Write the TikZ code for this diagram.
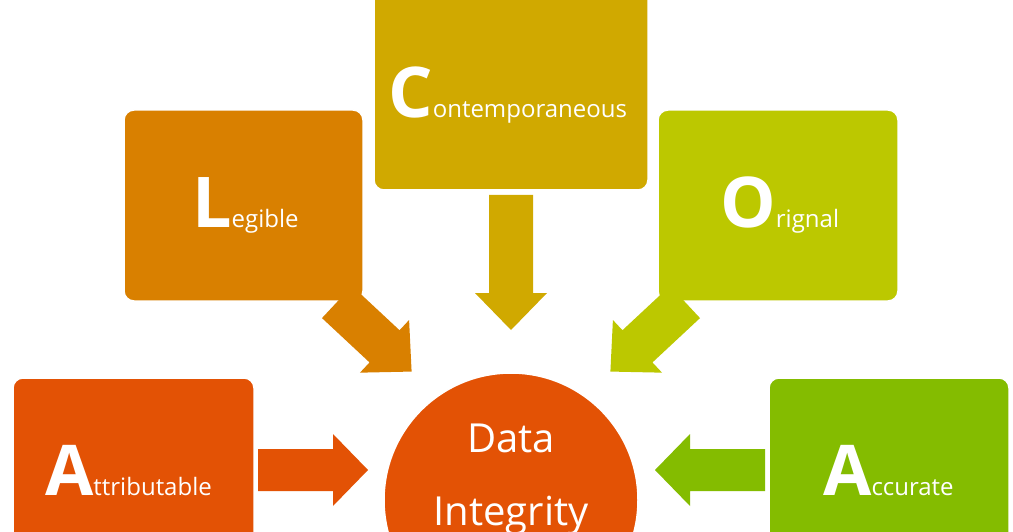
\documentclass[tikz,border=0pt]{standalone}
\usepackage{fontspec}
\setmainfont{Open Sans}
\definecolor{cA}{HTML}{E35205}
\definecolor{cL}{HTML}{D98000}
\definecolor{cC}{HTML}{D0A900}
\definecolor{cO}{HTML}{BCC800}
\definecolor{cG}{HTML}{84BC00}
\newcommand\blockarrow[7]{% x y angle length halfshaft headlen color
  \fill[#7,shift={(#1,#2)},rotate=#3] (0,-#5) -- ({#4-#6},-#5) -- ({#4-#6},-36) -- (#4,0) -- ({#4-#6},36) -- ({#4-#6},#5) -- (0,#5) -- cycle;}
\tikzset{box/.style={draw=white,line width=1.5pt,rounded corners=10pt},
 lbl/.style={anchor=base west,text=white,inner sep=0pt,font=\fontsize{24}{28}\selectfont}}
\newcommand\initial[1]{{\fontsize{70}{80}\selectfont\bfseries #1}}
\begin{document}
\begin{tikzpicture}[x=1pt,y=-1pt]
\useasboundingbox (0,0) rectangle (1013,532);
\clip (0,0) rectangle (1013,532);
\fill[white] (0,0) rectangle (1013,532);
\filldraw[cA,box] (13,378) rectangle (254,560);
\filldraw[cL,box] (124,110) rectangle (363,301);
\filldraw[cC,box] (374,-20) rectangle (648,190);
\filldraw[cO,box] (658,110) rectangle (898,301);
\filldraw[cG,box] (769,378) rectangle (1009,560);
\blockarrow{258}{470}{0}{110}{21}{35}{cA}
\blockarrow{765}{470}{180}{110}{21}{35}{cG}
\blockarrow{511}{195}{-90}{135}{22}{37}{cC}
\blockarrow{337}{302}{-43}{102}{22}{37}{cL}
\blockarrow{685}{302}{-137}{102}{22}{37}{cO}
\node[circle,fill=cA,draw=white,line width=1.5pt,minimum size=254pt] (di) at (511,500) {};
\node[text=white,font=\fontsize{40}{48}\selectfont,anchor=base] (d1) at (511,452) {Data};
\node[text=white,font=\fontsize{40}{48}\selectfont,anchor=base] (d2) at (511,525) {Integrity};
\node[lbl] (tA) at (45,495) {\initial{A}ttributable};
\node[lbl] (tL) at (192,228) {\initial{L}egible};
\node[lbl] (tC) at (388,118) {\initial{C}ontemporaneous};
\node[lbl] (tO) at (720,228) {\initial{O}rignal};
\node[lbl] (tG) at (823,495) {\initial{A}ccurate};
\end{tikzpicture}
\end{document}
